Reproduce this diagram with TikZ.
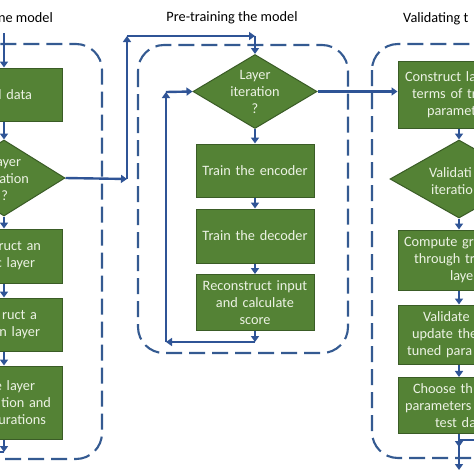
\documentclass[tikz,border=0pt]{standalone}
\usepackage{fontspec}
\setmainfont{Carlito}
\usetikzlibrary{arrows.meta,shapes.geometric,positioning}
\definecolor{boxgreen}{RGB}{84,130,53}
\definecolor{boxedge}{RGB}{58,92,38}
\definecolor{boxtext}{RGB}{236,242,228}
\definecolor{flowblue}{RGB}{47,84,150}
\definecolor{panelblue}{RGB}{52,90,145}
\newcommand{\boxfont}{\fontsize{14.3}{17}\selectfont}

\begin{document}
\begin{tikzpicture}[x=1pt,y=-1pt]
\tikzset{greenbox/.style={rectangle,fill=boxgreen,draw=boxedge,line width=1pt,
  inner sep=6pt,text=boxtext,font=\boxfont,
  path picture={\draw[line width=1.6pt,white!55!boxgreen] (path picture bounding box.north west) -- (path picture bounding box.north east);}},
leftbox/.style={greenbox,minimum width=116pt,text width=104pt,align=right},
midbox/.style={greenbox,minimum width=118pt,text width=106pt,align=center},
rightbox/.style={greenbox,minimum width=122pt,text width=110pt,align=left},
greendiamond/.style={diamond,fill=boxgreen,draw=boxedge,line width=1pt,inner sep=0pt},
difftext/.style={text=boxtext,font=\boxfont,inner sep=0pt},
panel/.style={draw=panelblue,line width=2.1pt,dash pattern=on 16pt off 7pt,rounded corners=26pt},
flow/.style={draw=flowblue,line width=2.4pt},
flowarrow/.style={flow,-{Triangle[length=6pt,width=8pt]}},
title/.style={font=\fontsize{14.3}{17}\selectfont,text=black,inner sep=0pt}}

\path[use as bounding box,fill=white] (0,0) rectangle (474,474);
\clip (0,0) rectangle (474,474);

%% Panels
\draw[panel] (-100,44) rectangle (102,459);
\draw[panel] (138,45) rectangle (348,353);
\draw[panel] (372,44) rectangle (600,458);

\node (tL) [title,anchor=east] at (53,18) {ne model};
\node (tM) [title] at (232,18) {Pre-training the model};
\node (tR) [title,anchor=west] at (403,19) {Validating t};

%% Left column
\node (ld) [leftbox,minimum height=53pt] at (4,94.5) {l data\kern24pt};
\node (iterL) [greendiamond,minimum width=122pt,minimum height=76pt] at (4,178) {};
\node (iterLtxt) [difftext,text width=50pt,align=right] at (4,180) {ayer\kern8pt\\ation\\?\kern21pt};
\node (inL) [leftbox,minimum height=54pt] at (4,256) {ruct an\kern15pt\\c layer\kern21pt};
\node (hidL) [leftbox,minimum height=53pt] at (4,324.5) {ruct a\kern19pt\\n layer\kern16pt};
\node (cfgL) [leftbox,minimum height=73pt] at (4,402.5) {e layer\kern21pt\\tion and\kern5pt\\urations\kern10pt};

%% Middle column
\node (iterM) [greendiamond,minimum width=124pt,minimum height=74pt] at (255,91.5) {};
\node (iterMtxt) [difftext,align=center] at (255,92) {Layer\\iteration\\?};
\node (enc) [midbox,minimum height=53pt] at (255,170.5) {Train the encoder};
\node (dec) [midbox,minimum height=54pt] at (255,236) {Train the decoder};
\node (rec) [midbox,minimum height=53pt] at (255,302.5) {Reconstruct input\\and calculate\\score};

%% Right column
\node (cons) [rightbox,minimum height=67pt] at (459,94.5) {\hspace*{1pt}Construct la\\\hspace*{8pt}terms of tr\\\hspace*{23pt}paramet};
\node (iterR) [greendiamond,minimum width=138pt,minimum height=78pt] at (459,179) {};
\node (iterRtxt) [difftext,text width=110pt,align=left] at (459,181) {\hspace*{25pt}Validati\\\hspace*{27pt}iteratio};
\node (grad) [rightbox,minimum height=60pt] at (459,260) {Compute gr\\\hspace*{10pt}through tr\\\hspace*{46pt}layer};
\node (val) [rightbox,minimum height=59pt] at (459,334.5) {\hspace*{19pt}Validate\\\hspace*{8pt}update the\\\hspace*{3pt}tuned para};
\node (choose) [rightbox,minimum height=55pt] at (459,405.5) {\hspace*{9pt}Choose th\\\hspace*{1pt}parameters\\\hspace*{31pt}test da};

\coordinate (startL) at (4,33);
\coordinate (backL) at (-10,452);
\coordinate (jumpA) at (127,179);
\coordinate (jumpB) at (127,36);
\coordinate (jumpC) at (255,36);
\coordinate (backA) at (255,342);
\coordinate (backB) at (166,342);
\coordinate (backC) at (166,92);
\coordinate (joinR) at (459,440);
\coordinate (sideR) at (490,440);
\coordinate (exitR) at (459,470);

%% Edges
\draw[flowarrow] (startL) -- (ld.north);
\foreach \a/\b in {ld/iterL, iterL/inL, inL/hidL, hidL/cfgL,
  iterM/enc, enc/dec, dec/rec,
  cons/iterR, iterR/grad, grad/val, val/choose}
  \draw[flowarrow] (\a.south) -- (\b.north);
\draw[flowarrow] (cfgL.south) -- (cfgL.south |- backL);
\draw[flow] (cfgL.south |- backL) -- (backL);

\draw[flowarrow] (iterL.east) -- (jumpA);
\draw[flowarrow] (jumpA) -- (jumpB);
\draw[flowarrow] (jumpB) -- (jumpC);
\draw[flowarrow] (jumpC) -- (iterM.north);

\draw[flowarrow] (rec.south) -- (backA);
\draw[flowarrow] (backA) -- (backB);
\draw[flowarrow] (backB) -- (backC);
\draw[flowarrow] (backC) -- (iterM.west);
\draw[flowarrow] (iterM.east) -- (iterM.east -| cons.west);

\draw[flowarrow] (choose.south) -- ++(0,13);
\draw[flow] (sideR) -- (joinR);
\draw[flowarrow] (joinR) -- (exitR);

\end{tikzpicture}
\end{document}
